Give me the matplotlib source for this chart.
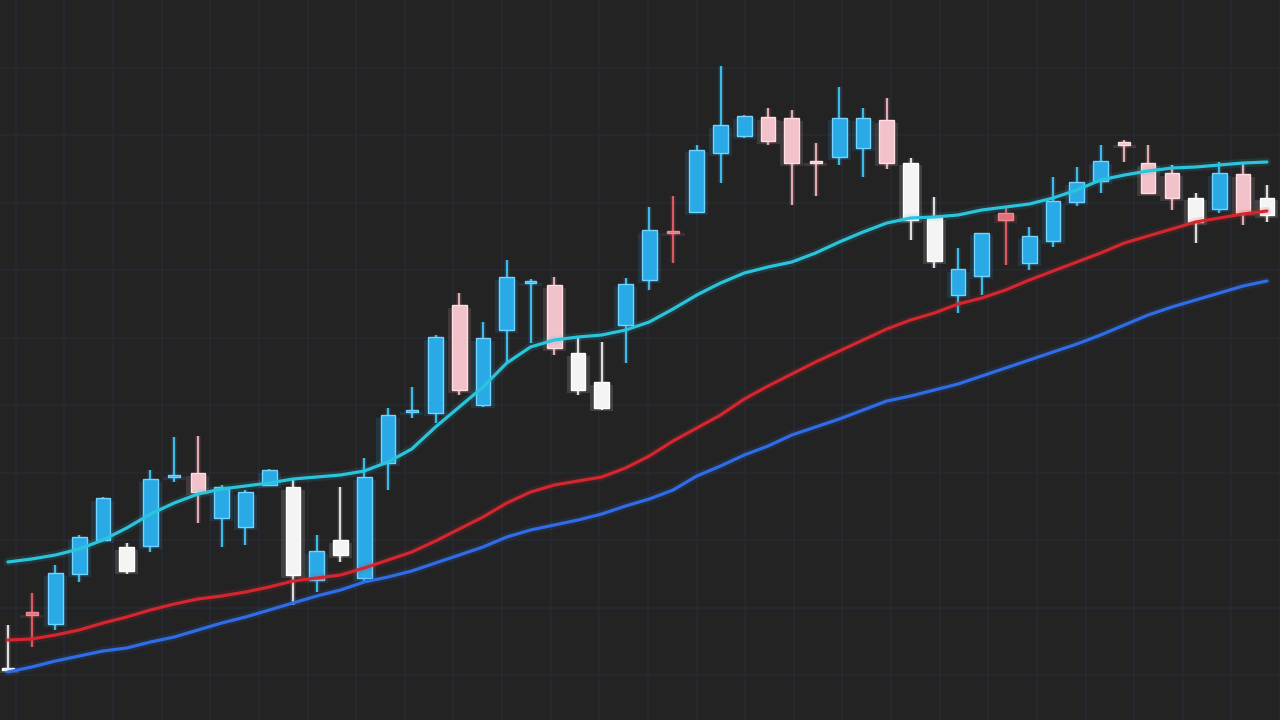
import numpy as np
import matplotlib
matplotlib.use("Agg")
import matplotlib.pyplot as plt

# ---- data (arbitrary price units) ----
opens  = [5.2, 10.8, 9.6, 14.6, 18.0, 17.3, 17.4, 24.3, 24.7, 20.2,
          19.3, 23.5, 23.3, 14.0, 18.0, 14.2, 25.7, 30.8, 30.7, 41.5,
          31.5, 39.0, 43.7, 43.5, 36.7, 33.8, 39.5, 44.0, 48.9, 50.8,
          56.7, 58.4, 60.3, 60.2, 55.9, 56.3, 57.2, 60.0, 55.7, 50.3,
          42.5, 44.4, 50.7, 45.7, 47.9, 51.8, 53.9, 57.8, 55.7, 54.7,
          52.2, 51.1, 54.6, 52.2]
closes = [5.0, 10.5, 14.7, 18.3, 22.2, 14.9, 24.1, 24.5, 22.8, 23.3,
          22.8, 25.0, 14.5, 16.9, 16.5, 24.3, 30.5, 31.0, 38.3, 33.0,
          38.2, 44.3, 43.9, 37.2, 33.0, 31.2, 43.6, 49.0, 48.7, 57.0,
          59.5, 60.4, 57.9, 55.7, 55.7, 60.2, 60.2, 55.7, 50.0, 45.9,
          45.1, 48.7, 50.0, 48.4, 51.9, 53.8, 55.9, 57.5, 52.7, 52.2,
          49.8, 54.7, 50.7, 50.5]
highs  = [9.5, 12.7, 15.5, 18.5, 22.3, 17.7, 25.0, 28.3, 28.4, 23.5,
          23.0, 25.1, 24.2, 18.5, 23.3, 26.2, 31.2, 33.3, 38.5, 42.7,
          39.8, 46.0, 44.1, 44.3, 38.3, 37.8, 44.2, 51.3, 52.4, 57.5,
          65.4, 60.5, 61.2, 61.0, 57.7, 63.3, 61.2, 62.2, 56.2, 52.3,
          47.2, 48.7, 51.4, 49.3, 54.3, 55.3, 57.5, 58.0, 57.5, 55.5,
          52.7, 55.8, 55.7, 53.5]
lows   = [4.7, 7.3, 9.0, 13.8, 17.9, 14.6, 16.8, 23.8, 19.7, 17.3,
          17.5, 23.4, 11.5, 12.8, 15.8, 13.7, 23.0, 30.2, 29.7, 32.5,
          31.3, 35.8, 37.7, 36.5, 32.5, 31.0, 35.7, 43.0, 45.7, 50.8,
          53.7, 58.2, 57.5, 51.5, 52.4, 55.5, 54.3, 55.1, 48.0, 45.2,
          40.7, 42.5, 45.5, 45.0, 47.3, 51.4, 52.7, 55.8, 52.7, 51.0,
          47.7, 50.7, 49.5, 49.8]
# candle colour style: b = blue, p = pink, w = white, r = red
styles = list("wrbbbwbbpbbbwbwbbbbpbbbpwwbbrbbbpppbbpwwbbrbbbbpppwbpw")

ma_fast = [15.8, 16.1, 16.5, 17.1, 18.0, 19.2, 20.6, 21.7, 22.6, 23.1,
           23.4, 23.7, 24.1, 24.3, 24.5, 24.9, 25.8, 27.1, 29.3, 31.3,
           33.3, 35.7, 37.3, 38.0, 38.3, 38.5, 39.0, 39.8, 41.1, 42.5,
           43.7, 44.7, 45.3, 45.8, 46.7, 47.8, 48.8, 49.7, 50.2, 50.3,
           50.5, 51.0, 51.3, 51.6, 52.2, 53.0, 54.0, 54.5, 54.9, 55.2,
           55.3, 55.5, 55.7, 55.8]
ma_mid  = [8.0, 8.1, 8.5, 9.0, 9.7, 10.3, 11.0, 11.6, 12.1, 12.4,
           12.8, 13.3, 13.9, 14.2, 14.5, 15.2, 16.0, 16.8, 17.9, 19.1,
           20.3, 21.7, 22.8, 23.5, 23.9, 24.3, 25.2, 26.4, 27.9, 29.2,
           30.5, 32.1, 33.4, 34.6, 35.8, 36.9, 38.0, 39.1, 40.0, 40.7,
           41.6, 42.2, 43.0, 44.0, 44.9, 45.8, 46.7, 47.7, 48.4, 49.1,
           49.8, 50.2, 50.6, 50.9]
ma_slow = [4.8, 5.3, 5.9, 6.4, 6.9, 7.2, 7.8, 8.3, 9.0, 9.7,
           10.3, 11.0, 11.7, 12.4, 13.0, 13.8, 14.3, 14.9, 15.7, 16.5,
           17.3, 18.3, 19.0, 19.5, 20.0, 20.6, 21.4, 22.1, 23.0, 24.4,
           25.4, 26.5, 27.4, 28.5, 29.3, 30.1, 31.0, 31.9, 32.4, 33.0,
           33.6, 34.4, 35.2, 36.0, 36.8, 37.6, 38.5, 39.5, 40.5, 41.3,
           42.0, 42.7, 43.4, 43.9]

# ---- style ----
BG = "#232324"
GRID = "#272a34"
body_col = {"b": "#29a9e6", "p": "#f2c2ca", "w": "#f4f4f4", "r": "#e0707a"}
edge_col = {"b": "#74d4ff", "p": "#ffdde2", "w": "#ffffff", "r": "#f08a90"}
wick_col = {"b": "#3dbbe8", "p": "#e4a8b0", "w": "#dedede", "r": "#d85a62"}

fig = plt.figure(figsize=(12.8, 7.2), dpi=100, facecolor=BG)
ax = fig.add_axes([0, 0, 1, 1])
ax.set_facecolor(BG)

n = len(opens)
x = np.arange(n)
px_per = 23.94
ax.set_xlim(-8 / px_per, (1280 - 8) / px_per)
ax.set_ylim(0, 72)

# faint grid
ax.set_xticks(0.33 + 2.047 * np.arange(27))
ax.set_yticks(4.5 + 6.75 * np.arange(10))
ax.grid(True, color=GRID, linewidth=1.1)
ax.tick_params(length=0, labelbottom=False, labelleft=False)
for s in ax.spines.values():
    s.set_visible(False)
ax.set_axisbelow(True)

o = np.array(opens); c = np.array(closes)
h = np.array(highs); l = np.array(lows)
bottoms = np.minimum(o, c)
heights = np.maximum(np.abs(c - o), 0.25)
width = 0.62

for i in range(n):
    st = styles[i]
    # glow
    ax.vlines(x[i], l[i], h[i], color=wick_col[st], linewidth=4, alpha=0.12, zorder=2)
    ax.bar(x[i], heights[i], width + 0.35, bottom=bottoms[i] - 0.25,
           color=body_col[st], alpha=0.14, linewidth=0, zorder=2)
    # wick
    ax.vlines(x[i], l[i], h[i], color=wick_col[st], linewidth=1.6, zorder=3)
    # body
    ax.bar(x[i], heights[i], width if abs(c[i]-o[i]) > 0.4 else 0.5,
           bottom=bottoms[i], color=body_col[st],
           edgecolor=edge_col[st], linewidth=1.0, zorder=4)

# moving averages with slight glow
for vals, col in ((ma_slow, "#2f6de6"), (ma_mid, "#d3262e"), (ma_fast, "#2ac4dc")):
    ax.plot(x, vals, color=col, linewidth=6, alpha=0.12, zorder=5,
            solid_capstyle="round", solid_joinstyle="round")
    ax.plot(x, vals, color=col, linewidth=2.3, zorder=6,
            solid_capstyle="round", solid_joinstyle="round")

fig.savefig("out.png", dpi=100, facecolor=BG)
